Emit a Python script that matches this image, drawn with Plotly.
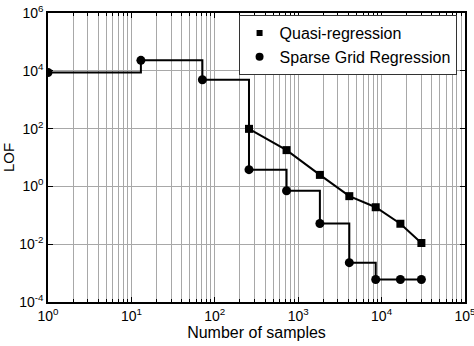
import plotly.graph_objects as go

# Number of samples at each refinement level
samples = [1, 13, 71, 257, 725, 1820, 4100, 8500, 16800, 30000]
# Lack-of-fit for sparse grid regression (step curve)
lof_sparse = [8700, 23000, 4900, 3.8, 0.71, 0.052, 0.0023, 0.0006, 0.0006, 0.0006]
# Lack-of-fit for quasi-regression (from 257 samples on)
samples_quasi = [257, 725, 1820, 4100, 8500, 16800, 30000]
lof_quasi = [98, 18, 2.5, 0.46, 0.19, 0.051, 0.011]

x_ticks = [1, 10, 100, 1000, 10000, 100000]
x_ticktext = ["10<sup>0</sup>", "10<sup>1</sup>", "10<sup>2</sup>", "10<sup>3</sup>",
              "10<sup>4</sup>", "10<sup>5</sup>"]
# minor decade subdivisions 2..9 on the x axis
x_minor = [m * 10 ** k for k in range(5) for m in range(2, 10)]
y_ticks = [1e-4, 1e-2, 1, 1e2, 1e4, 1e6]
y_ticktext = ["10<sup>-4</sup>", "10<sup>-2</sup>", "10<sup>0</sup>", "10<sup>2</sup>",
              "10<sup>4</sup>", "10<sup>6</sup>"]

FONT = "Arial, Liberation Sans, Helvetica, sans-serif"
GRID = "#a8a8a8"

fig = go.Figure()

fig.add_trace(go.Scatter(
    x=samples, y=lof_sparse, mode="lines+markers", line_shape="hv",
    line=dict(color="black", width=2),
    marker=dict(symbol="circle", size=9, color="black"),
    showlegend=False,
))
fig.add_trace(go.Scatter(
    x=samples_quasi, y=lof_quasi, mode="lines+markers",
    line=dict(color="black", width=2),
    marker=dict(symbol="square", size=8, color="black"),
    showlegend=False,
))

# Legend entries showing only the marker symbols
fig.add_trace(go.Scatter(
    x=[None], y=[None], mode="markers", name="Quasi-regression",
    marker=dict(symbol="square", size=6, color="black"),
))
fig.add_trace(go.Scatter(
    x=[None], y=[None], mode="markers", name="Sparse Grid Regression",
    marker=dict(symbol="circle", size=8, color="black"),
))

fig.update_layout(
    width=474, height=346,
    margin=dict(l=48, r=9, t=13, b=44),
    paper_bgcolor="white", plot_bgcolor="white",
    font=dict(family=FONT, size=14, color="black"),
    legend=dict(
        x=0.457, y=0.993, xanchor="left", yanchor="top",
        bgcolor="white", bordercolor="#333333", borderwidth=1,
        font=dict(size=16), itemwidth=30, tracegroupgap=0,
    ),
)

fig.update_xaxes(
    type="log", range=[0, 5], automargin=False,
    tickvals=x_ticks, ticktext=x_ticktext, ticklabeloverflow="allow",
    showgrid=True, gridcolor=GRID, gridwidth=1,
    minor=dict(tickvals=x_minor, showgrid=True, gridcolor=GRID, gridwidth=1,
               ticks="inside", ticklen=3, tickcolor="black"),
    ticks="inside", ticklen=5, tickcolor="black",
    showline=True, linecolor="black", linewidth=1.5, mirror="allticks",
    zeroline=False,
    title=dict(text="Number of samples", font=dict(size=16), standoff=2),
)
fig.update_yaxes(
    type="log", range=[-4, 6], automargin=False,
    tickvals=y_ticks, ticktext=y_ticktext, ticklabeloverflow="allow",
    showgrid=True, gridcolor=GRID, gridwidth=1,
    ticks="inside", ticklen=5, tickcolor="black",
    showline=True, linecolor="black", linewidth=1.5, mirror="allticks",
    zeroline=False,
    title=dict(text="LOF", font=dict(size=15), standoff=2),
)

fig.write_html("out.html")
